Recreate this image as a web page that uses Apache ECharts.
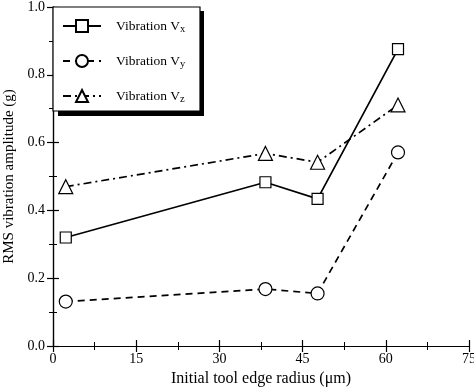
<!DOCTYPE html>
<html><head><meta charset="utf-8">
<script src="https://cdn.jsdelivr.net/npm/echarts@6/dist/echarts.min.js"></script>
<style>html,body{margin:0;padding:0;background:#fff}#c{width:474px;height:387px}</style>
</head><body><div id="c"></div>
<script>
var radius = [2.3, 38.3, 47.7, 62.2];
var vx = [0.320, 0.483, 0.434, 0.876];
var vy = [0.131, 0.168, 0.155, 0.571];
var vz = [0.470, 0.568, 0.542, 0.711];
var seriesNames = ['Vibration Vx', 'Vibration Vy', 'Vibration Vz'];
var subs = {'Vibration Vx':'x','Vibration Vy':'y','Vibration Vz':'z'};
var xTicks = [0, 15, 30, 45, 60, 75];
var yTicks = [0.0, 0.2, 0.4, 0.6, 0.8, 1.0];

function pts(ys){ return radius.map(function(x,i){return [x, ys[i]];}); }
var font = 'Liberation Serif';
var chart = echarts.init(document.getElementById('c'), null, {renderer:'canvas'});
var axisCommon = {
  axisLine:{show:true, lineStyle:{color:'#000', width:1.2}},
  axisTick:{show:true, inside:true, length:6, lineStyle:{color:'#000', width:1.2}},
  minorTick:{show:true, splitNumber:2, length:4, lineStyle:{color:'#000', width:1}},
  splitLine:{show:false}
};
function mk(name, ys, symbol, size, dash){
  return {
    name:name, type:'line', data:pts(ys), symbol:symbol, symbolSize:size,
    showAllSymbol:true,
    lineStyle:{color:'#000', width:1.7, type:dash},
    itemStyle:{color:'#fff', borderColor:'#000', borderWidth:1.2},
    z:3
  };
}
chart.setOption({
  animation:false,
  backgroundColor:'#fff',
  grid:{left:53, right:5, top:7, bottom:41, containLabel:false, outerBoundsMode:'none'},
  xAxis:[
    Object.assign({type:'value', min:0, max:75, interval:15, position:'bottom',
      name:'Initial tool edge radius (\u03bcm)', nameLocation:'middle', nameGap:23,
      nameTextStyle:{fontFamily:font, fontSize:16, color:'#000'},
      axisLabel:{fontFamily:font, fontSize:14, color:'#000', margin:6,
        formatter:function(v){return xTicks.indexOf(v)>=0? String(v):'';}}}, axisCommon),
    Object.assign({type:'value', min:0, max:75, interval:15, position:'top',
      axisLabel:{show:false}}, axisCommon)
  ],
  yAxis:[
    Object.assign({type:'value', min:0, max:1, interval:0.2, position:'left',
      name:'RMS vibration amplitude (g)', nameLocation:'middle', nameGap:34,
      nameTextStyle:{fontFamily:font, fontSize:15, color:'#000'},
      axisLabel:{fontFamily:font, fontSize:14, color:'#000', margin:8,
        formatter:function(v){return v.toFixed(1);}}}, axisCommon),
    Object.assign({type:'value', min:0, max:1, interval:0.2, position:'right',
      axisLabel:{show:false}}, axisCommon)
  ],
  graphic:[
    {type:'rect', shape:{x:58, y:11, width:146, height:105}, style:{fill:'#000'}, z:1},
    {type:'rect', shape:{x:53, y:7, width:147, height:104}, style:{fill:'#fff', stroke:'#000', lineWidth:1.2}, z:2}
  ],
  legend:{
    show:true, orient:'vertical', left:57, top:14, itemWidth:38, itemHeight:15,
    itemGap:19, z:10,
    data:seriesNames,
    textStyle:{fontFamily:font, fontSize:13.5, color:'#000',
      rich:{a:{fontFamily:font, fontSize:13.5, color:'#000', padding:[0,0,0,10]},
            s:{fontFamily:font, fontSize:10.5, color:'#000', padding:[7,0,0,0]}}},
    formatter:function(n){ return '{a|Vibration V}{s|'+subs[n]+'}'; }
  },
  series:[
    mk(seriesNames[0], vx, 'rect', 11, 'solid'),
    mk(seriesNames[1], vy, 'circle', 13, [7,5]),
    mk(seriesNames[2], vz, 'triangle', 14, [8,4,2,4])
  ]
});
</script></body></html>
